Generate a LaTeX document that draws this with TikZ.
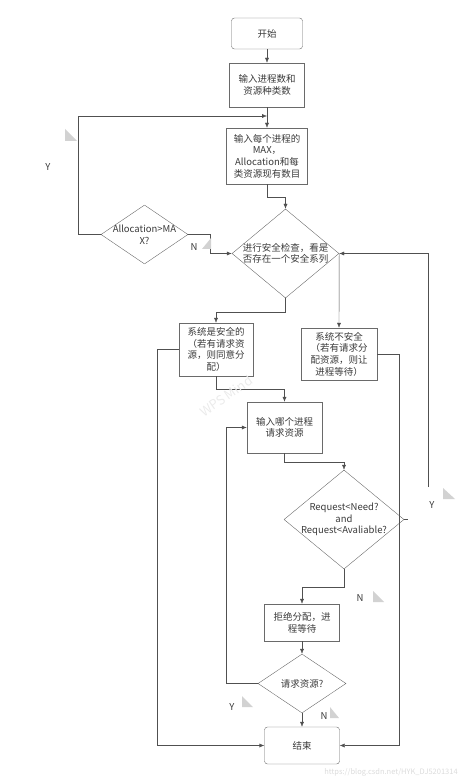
\documentclass[tikz,border=0pt]{standalone}
\usepackage{fontspec}
\newfontfamily\cjk{Noto Sans CJK SC}
\usetikzlibrary{shapes.geometric,arrows.meta}
\definecolor{linec}{HTML}{505050}
\definecolor{boxc}{HTML}{6A6A6A}
\definecolor{txtc}{HTML}{3A3A3A}
\begin{document}
\begin{tikzpicture}[x=1pt,y=-1pt,
  font=\cjk\fontsize{9.5}{11.7}\selectfont, text=txtc,
  proc/.style={draw=boxc, rectangle, align=center, inner sep=1pt, minimum width=75pt},
  term/.style={proc, rounded corners=3pt},
  dec/.style={draw=boxc, diamond, inner sep=0pt},
  arr/.style={draw=linec, -{Latex[length=5pt,width=4pt]}},
  flag/.style={fill=gray!35, draw=none},
  every label/.style={align=center}]
  \useasboundingbox (0,0) rectangle (474,783);

  % boxes
  \node[term, minimum width=71pt, minimum height=31pt] (start) at (267,33.5) {开始};
  \node[proc, minimum height=44pt] (nproc) at (267,85) {输入进程数和\\资源种类数};
  \node[proc, minimum width=81pt, minimum height=56pt] (maxalloc) at (267,156)
    {输入每个进程的\\MAX，\\Allocation和每\\类资源现有数目};
  \node[dec, minimum width=87pt, minimum height=59pt,
    label=center:{Allocation>MA\\X?}] (check) at (144.5,234.5) {};
  \node[dec, minimum width=107pt, minimum height=89pt,
    label=center:{进行安全检查，看是\\否存在一个安全系列}] (safety) at (285.5,253.5) {};
  \node[proc, minimum width=74pt, minimum height=53pt] (safe) at (216,349.5)
    {系统是安全的\\（若有请求资\\源，则同意分\\配）};
  \node[proc, minimum width=76pt, minimum height=52pt] (unsafe) at (339,354)
    {系统不安全\\（若有请求分\\配资源，则让\\进程等待）};
  \node[proc, minimum height=51pt] (which) at (284.5,427.5) {输入哪个进程\\请求资源};
  \node[dec, minimum width=120pt, minimum height=99pt,
    label=center:{Request<Need?\\and\\Request<Avaliable?}] (req) at (344,519.5) {};
  \node[proc, minimum height=37pt] (refuse) at (302,622.5) {拒绝分配，进\\程等待};
  \node[dec, minimum width=88pt, minimum height=59pt,
    label=center:{请求资源?}] (again) at (302,683.5) {};
  \node[term, minimum height=37pt] (end) at (302,745.5) {结束};

  % connectors
  \coordinate (join) at (267,116);
  \coordinate (ytail) at (428,487);
  \draw[arr] (start) -- (nproc);
  \draw[arr] (nproc) -- (maxalloc);
  \draw[arr] (check.west) -- ++(-23,0) |- (join);
  \draw[arr] (maxalloc.south) -- ++(0,13) -| (safety.north);
  \draw[arr] (check.east) -- ++(22,0) |- (safety.west);
  \draw[arr] (safety.south) -- ++(0,14) -| (safe.north);
  \draw[arr] (safety.east) -- (unsafe.north);
  \draw[arr] (safe.west) -- ++(-22,0) |- (end.west);
  \draw[arr] (safe.south) -- ++(0,13) -| (which.north);
  \draw[arr] (unsafe.east) -- ++(22,0) |- (end.east);
  \draw[arr] (which.south) -- ++(0,9) -| (req.north);
  \draw[arr] (req.south) -- ++(0,18) -| (refuse.north);
  \draw[arr] (refuse) -- (again);
  \draw[arr] (again.west) -- ++(-32,0) |- (which.west);
  \draw[arr] (again) -- (end);
  \draw[arr] (ytail) |- (safety.east);
  \draw[linec] (req.east) -- ++(4,0);

  % branch labels
  \node (y1) at (48,167) {Y};
  \node (n1) at (194,247) {N};
  \node (y2) at (432,505) {Y};
  \node (n2) at (360,598) {N};
  \node (y3) at (232,707) {Y};
  \node (n3) at (324,716) {N};
  \fill[flag] (65,129) -- (65,141) -- (77,141) -- cycle;
  \fill[flag] (202,249) -- (211,249) -- (211,238) -- cycle;
  \fill[flag] (443,488) -- (443,499) -- (455,499) -- cycle;
  \fill[flag] (373,591) -- (373,602) -- (384,602) -- cycle;
  \fill[flag] (242,696) -- (242,707) -- (253,707) -- cycle;
  \fill[flag] (330,707) -- (330,718) -- (339,718) -- cycle;

  % watermarks
  \node[text=gray!16, rotate=35, inner sep=0pt, font=\cjk\fontsize{13}{13}\selectfont] (wm) at (226,396) {WPS Mind};
  \node[text=gray!28, font=\cjk\fontsize{7.5}{8}\selectfont] (url) at (391,772) {https://blog.csdn.net/HYK\_DJ5201314};
\end{tikzpicture}
\end{document}
